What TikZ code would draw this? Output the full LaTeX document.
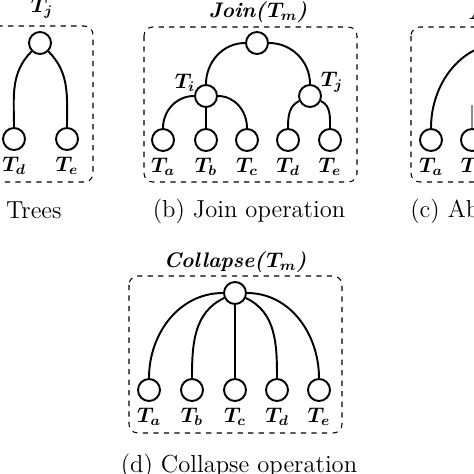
\documentclass[tikz,border=0pt]{standalone}
\usepackage{bm}
\usetikzlibrary{positioning}

\newcommand{\bi}[1]{\textbf{\textit{#1}}}

\begin{document}
\begin{tikzpicture}[
  x=0.02cm, y=-0.02cm,
  tnode/.style={circle, draw, line width=1.1pt, minimum size=0.44cm, inner sep=0pt, fill=white},
  link/.style={line width=1.1pt},
  panel/.style={rounded corners=5pt, draw, dashed, line width=0.6pt},
  tlabel/.style={inner sep=1pt, font=\large},
  subcap/.style={font=\fontsize{14}{16}\selectfont, inner sep=0pt}
]
\useasboundingbox (0,0) rectangle (474,474);
\clip (0,0) rectangle (474,474);

% (a) trees
\draw[panel] (-10,26) rectangle (93,182);
\node[tnode] (a_r) at (40,43) {};
\node[tnode] (a_d) at (14,139) {};
\node[tnode] (a_e) at (67,139) {};
\draw[link] (a_r) to[out=225,in=90] (a_d);
\draw[link] (a_r) to[out=-45,in=90] (a_e);
\node[tlabel] at (42,8) {$\bm{T_j}$};
\node[tlabel, below=2pt of a_d] {$\bm{T_d}$};
\node[tlabel, below=2pt of a_e] {$\bm{T_e}$};
\node[subcap, anchor=east] at (62,212) {(a) Trees};

% (b) join
\draw[panel] (144,27) rectangle (357,182);
\node[tnode] (b_r) at (257,43) {};
\node[tnode] (b_i) at (206,96) {};
\node[tnode] (b_j) at (310,96) {};
\node[tnode] (b_a) at (163,140) {};
\node[tnode] (b_b) at (206,140) {};
\node[tnode] (b_c) at (247,140) {};
\node[tnode] (b_d) at (288,140) {};
\node[tnode] (b_e) at (330,140) {};
\draw[link] (b_r) to[out=180,in=90] (b_i);
\draw[link] (b_r) to[out=0,in=90] (b_j);
\draw[link] (b_i) to[out=180,in=90] (b_a);
\draw[link] (b_i) -- (b_b);
\draw[link] (b_i) to[out=0,in=90] (b_c);
\draw[link] (b_j) to[out=205,in=90] (b_d);
\draw[link] (b_j) to[out=-25,in=90] (b_e);
\node[tlabel] at (258,12) {\bi{Join(}$\bm{T_m}$\bi{)}};
\node[tlabel] at (185,83) {$\bm{T_i}$};
\node[tlabel] at (332,82) {$\bm{T_j}$};
\foreach \n/\s in {a/a,b/b,c/c,d/d,e/e}
  \node[tlabel, below=2pt of b_\n] {$\bm{T_\s}$};
\node[subcap] at (249,211) {(b) Join operation};

% (c) partly visible
\draw[panel] (411,27) rectangle (520,182);
\coordinate (c_r) at (505,43);
\node[tnode] (c_a) at (431,140) {};
\node[tnode] (c_b) at (472,140) {};
\draw[link] (c_r) to[out=180,in=90] (c_a);
\coordinate (c_t) at (472,105);
\draw[link, black!45] (c_t) -- (c_b);
\node[tlabel, below=2pt of c_a] {$\bm{T_a}$};
\node[tlabel, below=2pt of c_b] {$\bm{T_b}$};
\node[tlabel, anchor=west] at (466,12) {\bi{A}};
\node[subcap, anchor=west] at (410,211) {(c) Ab};

% (d) collapse
\draw[panel] (129,276) rectangle (342,433);
\node[tnode] (d_r) at (235,293) {};
\node[tnode] (d_a) at (149,390) {};
\node[tnode] (d_b) at (192,390) {};
\node[tnode] (d_c) at (235,390) {};
\node[tnode] (d_d) at (277,390) {};
\node[tnode] (d_e) at (319,390) {};
\draw[link] (d_r) to[out=180,in=90] (d_a);
\draw[link] (d_r) to[out=205,in=90] (d_b);
\draw[link] (d_r) -- (d_c);
\draw[link] (d_r) to[out=-25,in=90] (d_d);
\draw[link] (d_r) to[out=0,in=90] (d_e);
\node[tlabel] at (235,262) {\bi{Collapse(}$\bm{T_m}$\bi{)}};
\foreach \n/\s in {a/a,b/b,c/c,d/d,e/e}
  \node[tlabel, below=2pt of d_\n] {$\bm{T_\s}$};
\node[subcap] at (239,466) {(d) Collapse operation};
\end{tikzpicture}
\end{document}
